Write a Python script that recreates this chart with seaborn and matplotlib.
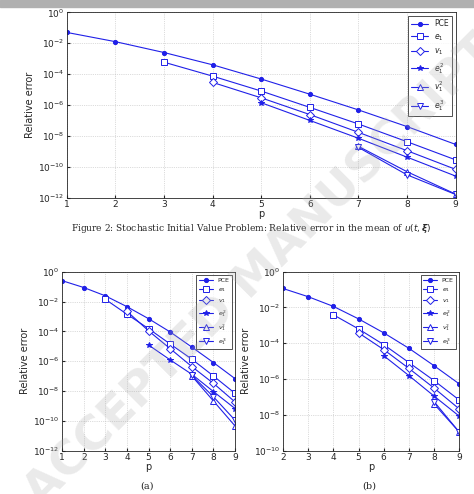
import matplotlib
matplotlib.use("Agg")
import matplotlib.pyplot as plt
import numpy as np
import pandas as pd
import seaborn as sns

# top panel: relative error in the mean
top_pce = [5e-2, 1.26e-2, 2.5e-3, 4e-4, 4.8e-5, 5e-6, 4.8e-7, 4e-8, 2.8e-9]
top_e1 = [5.9e-4, 7.4e-5, 8e-6, 7e-7, 5.9e-8, 4.2e-9, 2.8e-10]
top_v1 = [2.9e-5, 2.9e-6, 2.4e-7, 1.7e-8, 1.1e-9, 6.8e-11]
top_e12 = [1.4e-6, 1e-7, 7e-9, 4.2e-10, 2.5e-11]
top_v12 = [2.1e-9, 4.8e-11, 1.7e-12]
top_e13 = [1.8e-9, 3e-11, 1.6e-12]

# panel (a)
a_pce = [0.25, 8.7e-2, 2.4e-2, 4.5e-3, 7e-4, 9e-5, 8.7e-6, 8e-7, 6.6e-8]
a_e1 = [1.4e-2, 1.4e-3, 1.5e-4, 1.4e-5, 1.35e-6, 1e-7, 6.8e-9]
a_v1 = [2.2e-3, 1.07e-4, 6.8e-6, 4.3e-7, 3.2e-8, 1.8e-9]
a_e12 = [1.2e-5, 1.2e-6, 1.3e-7, 9e-9, 6.5e-10]
a_v12 = [1e-7, 2.1e-9, 4.4e-11]
a_e13 = [1.1e-7, 4e-9, 1.07e-10]

# panel (b)
b_pce = [1.15e-1, 4e-2, 1.15e-2, 2.3e-3, 3.8e-4, 5.2e-5, 5.5e-6, 5.3e-7]
b_e1 = [3.9e-3, 6.3e-4, 8.3e-5, 8.3e-6, 8.1e-7, 6.6e-8]
b_v1 = [3.8e-4, 4.4e-5, 3.9e-6, 3.1e-7, 2.1e-8]
b_e12 = [2e-5, 1.55e-6, 1.1e-7, 8.3e-9]
b_v12 = [4e-8, 1.07e-9]
b_e13 = [5.4e-8, 1.07e-9]

labels = ["PCE", "$e_1$", "$v_1$", "$e_1^2$", "$v_1^2$", "$e_1^3$"]
markers = [".", "s", "D", "*", "^", "v"]
blue = "#2020e8"

sns.set_style("ticks")
plt.rcParams["font.family"] = ["DejaVu Sans"]

fig = plt.figure(figsize=(4.74, 4.94), dpi=100)


def panel(rect, series, xlim, ylim, yticks, fs=6.5, legfs=5.5):
    ax = fig.add_axes(rect)
    for s, lab, m in zip(series, labels, markers):
        n = len(s)
        df = pd.DataFrame({"p": np.arange(xlim[1] - n + 1, xlim[1] + 1), "err": s})
        sns.lineplot(data=df, x="p", y="err", ax=ax, color=blue, lw=0.8,
                     marker=m, markersize=4 if m != "." else 6,
                     markerfacecolor=blue if m in (".", "*") else "white",
                     markeredgecolor=blue, markeredgewidth=0.7, label=lab)
    ax.set_yscale("log")
    ax.set_xlim(*xlim)
    ax.set_ylim(*ylim)
    ax.set_yticks(yticks)
    ax.minorticks_off()
    ax.set_xticks(range(xlim[0], xlim[1] + 1))
    ax.grid(True, ls=":", lw=0.5, color="#bbbbbb")
    ax.tick_params(labelsize=fs, direction="in", length=2, pad=2)
    ax.set_xlabel("p", fontsize=fs + 0.5, labelpad=0)
    ax.set_ylabel("Relative error", fontsize=fs + 0.5, labelpad=2)
    leg = ax.legend(loc="upper right", fontsize=legfs, fancybox=False,
                    edgecolor="black", handlelength=2.2, borderpad=0.4,
                    labelspacing=0.5)
    leg.get_frame().set_linewidth(0.6)
    for sp in ax.spines.values():
        sp.set_linewidth(0.6)
    return ax


panel([0.141, 0.6, 0.82, 0.375],
      [top_pce, top_e1, top_v1, top_e12, top_v12, top_e13],
      (1, 9), (1e-12, 1), [10.0 ** k for k in range(-12, 1, 2)])

fig.text(0.53, 0.532, r"Figure 2: Stochastic Initial Value Problem: Relative error in the mean of $u(t,\boldsymbol{\xi})$",
         ha="center", fontsize=6.5, family="DejaVu Serif")

panel([0.131, 0.088, 0.365, 0.362],
      [a_pce, a_e1, a_v1, a_e12, a_v12, a_e13],
      (1, 9), (1e-12, 1), [10.0 ** k for k in range(-12, 1, 2)], legfs=4.5)
panel([0.597, 0.088, 0.372, 0.362],
      [b_pce, b_e1, b_v1, b_e12, b_v12, b_e13],
      (2, 9), (1e-10, 1), [10.0 ** k for k in range(-10, 1, 2)], legfs=4.5)

fig.text(0.31, 0.012, "(a)", ha="center", fontsize=7, family="DejaVu Serif")
fig.text(0.78, 0.012, "(b)", ha="center", fontsize=7, family="DejaVu Serif")

# watermark
fig.patches.append(plt.Rectangle((0, 0.985), 1, 0.015, transform=fig.transFigure,
                                 color="#b0b0b0", zorder=-1))
fig.text(0.55, 0.45, "ACCEPTED MANUSCRIPT", rotation=45, ha="center", va="center",
         fontsize=34, fontweight="bold", color="#aaaaaa", alpha=0.25, zorder=10)

fig.savefig("out.png", dpi=100)
